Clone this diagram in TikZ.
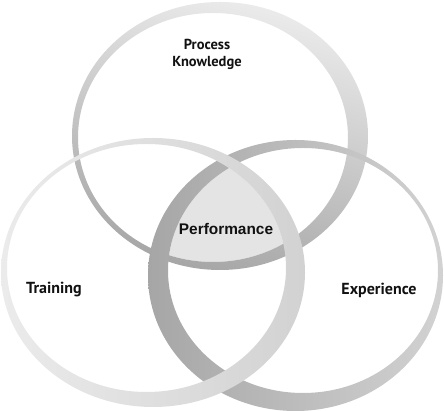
\documentclass[tikz,border=0pt]{standalone}
\usepackage{fontspec}
\usepackage{xcolor}
\usepackage{tikz}
\usetikzlibrary{positioning}
\setsansfont{PT Sans}
\newfontfamily\perffont{Liberation Sans}
\definecolor{inkK}{HTML}{111111}
\definecolor{ringLt}{HTML}{EBEBEB}
\definecolor{ringMd}{HTML}{D2D2D2}
\definecolor{ringDk}{HTML}{A6A6A6}
\definecolor{coreFill}{HTML}{E4E4E4}

\begin{document}
\begin{tikzpicture}[x=1pt, y=1pt,
    ring/.style={even odd rule, draw=none},
    lbl/.style={font=\sffamily\bfseries\fontsize{16}{17}\selectfont, text=inkK, align=center, inner sep=0pt}]
  \useasboundingbox (0,0) rectangle (444,411);

  % centre where all three meet
  \begin{scope}
    \clip (213,273.5) ellipse [x radius=135, y radius=124.5];
    \clip (146.5,143) ellipse [x radius=139.5, y radius=124];
    \fill[coreFill] (303,140.5) ellipse [x radius=135, y radius=122.5];
  \end{scope}

  % the three rings
  \shade[ring, left color=ringLt, right color=ringDk, shading angle=-15]
    (220,275) ellipse [x radius=148, y radius=134]
    (213,273.5) ellipse [x radius=135, y radius=124.5];
  \shade[ring, left color=ringDk, right color=ringMd]
    (295.5,135.5) ellipse [x radius=147.5, y radius=135.5]
    (303,140.5) ellipse [x radius=135, y radius=122.5];
  \shade[ring, left color=ringLt, right color=ringMd]
    (153,138.5) ellipse [x radius=152, y radius=134.5]
    (146.5,143) ellipse [x radius=139.5, y radius=124];

  \node[lbl, font=\sffamily\bfseries\fontsize{14.5}{16}\selectfont] (proc) at (207,357) {Process\\[1pt]Knowledge};
  \node[lbl, font=\perffont\bfseries\fontsize{15.4}{16}\selectfont] (perf) at (226,182) {Performance};
  \node[lbl] (train) at (54,121) {Training};
  \node[lbl] (exper) at (379,121) {Experience};
\end{tikzpicture}
\end{document}
